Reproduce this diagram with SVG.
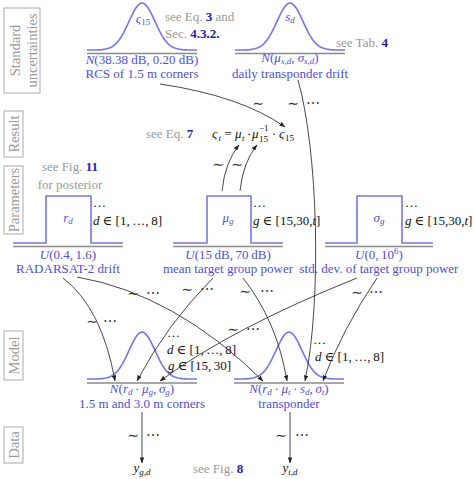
<svg xmlns="http://www.w3.org/2000/svg" xmlns:xlink="http://www.w3.org/1999/xlink" width="474" height="479" viewBox="0 0 474 479">
<style>
.lbl{font-family:"Liberation Serif","DejaVu Serif",serif;font-size:14.5px;fill:#9a9a9a}
.box{fill:none;stroke:#aaa;stroke-width:1}
.t{font-family:"Liberation Serif","DejaVu Serif",serif;font-size:13px}
.blue{fill:#5050d4}
.gray{fill:#9a9a9a}
.blk{fill:#111}
.ref{fill:#1c1cb8;font-weight:bold}
.it{font-style:italic}
.curve{fill:none;stroke:#7676e6;stroke-width:1.6;stroke-linejoin:round}
.base{stroke:#8a8a8a;stroke-width:1.6}
.conn{fill:none;stroke:#333;stroke-width:0.9;marker-end:url(#ah)}
.tl{font-family:"Liberation Serif","DejaVu Serif",serif;font-size:14px;fill:#333;text-anchor:middle}
</style>
<defs>
<marker id="ah" viewBox="0 0 8 6" refX="7.5" refY="3" markerWidth="6" markerHeight="4.5" markerUnits="userSpaceOnUse" orient="auto"><path d="M0,0 L8,3 L0,6 z" fill="#222"/></marker>
<path id="gauss" d="M-55,0 L-48,0 L-44,-0.15 L-40,-0.41 L-36,-1.02 L-32,-2.27 L-30,-3.28 L-28,-4.62 L-26,-6.36 L-24,-8.55 L-22,-11.23 L-20,-14.39 L-18,-18.02 L-16,-22.04 L-14,-26.32 L-12,-30.7 L-10,-34.96 L-8,-38.89 L-6,-42.25 L-4,-44.83 L-2,-46.45 L0,-47 L2,-46.45 L4,-44.83 L6,-42.25 L8,-38.89 L10,-34.96 L12,-30.7 L14,-26.32 L16,-22.04 L18,-18.02 L20,-14.39 L22,-11.23 L24,-8.55 L26,-6.36 L28,-4.62 L30,-3.28 L32,-2.27 L36,-1.02 L40,-0.41 L44,-0.15 L48,0 L55,0"/>
</defs>

<g id="row-labels">
<rect class="box" x="4" y="8" width="36" height="85"/>
<text class="lbl" text-anchor="middle" transform="translate(20,50.5) rotate(-90)">Standard</text>
<text class="lbl" text-anchor="middle" transform="translate(37,50.5) rotate(-90)">uncertainties</text>
<rect class="box" x="4" y="111" width="19" height="46"/>
<text class="lbl" text-anchor="middle" transform="translate(18.5,134) rotate(-90)">Result</text>
<rect class="box" x="4" y="166" width="19" height="68"/>
<text class="lbl" text-anchor="middle" transform="translate(18.5,200) rotate(-90)">Parameters</text>
<rect class="box" x="4" y="331" width="19" height="49"/>
<text class="lbl" text-anchor="middle" transform="translate(18.5,355.5) rotate(-90)">Model</text>
<rect class="box" x="4" y="427" width="19" height="36"/>
<text class="lbl" text-anchor="middle" transform="translate(18.5,445) rotate(-90)">Data</text>
</g>

<g id="rcs-15">
<use xlink:href="#gauss" class="curve" transform="translate(142,50)"/>
<line class="base" x1="87" y1="53.5" x2="197" y2="53.5"/>
<text class="t blue it" x="143" y="23" text-anchor="middle">ς<tspan font-size="9" font-style="normal" dy="2">15</tspan></text>
<text class="t gray" x="165" y="21">see Eq. <tspan class="ref">3</tspan> and</text>
<text class="t gray" x="165" y="38">Sec. <tspan class="ref">4.3.2.</tspan></text>
<text class="t blue" x="142" y="64" text-anchor="middle"><tspan class="it">N</tspan>(38.38 dB, 0.20 dB)</text>
<text class="t blue" x="142" y="78" text-anchor="middle">RCS of 1.5 m corners</text>
</g>

<g id="transponder-drift">
<use xlink:href="#gauss" class="curve" transform="translate(290,50)"/>
<line class="base" x1="235" y1="53.5" x2="345" y2="53.5"/>
<text class="t blue it" x="290" y="21" text-anchor="middle">s<tspan font-size="9" dy="2">d</tspan></text>
<text class="t gray" x="336" y="47">see Tab. <tspan class="ref">4</tspan></text>
<text class="t blue" x="290" y="62" text-anchor="middle"><tspan class="it">N</tspan>(<tspan class="it">μ</tspan><tspan class="it" font-size="9" dy="2">s,d</tspan><tspan dy="-2">, </tspan><tspan class="it">σ</tspan><tspan class="it" font-size="9" dy="2">s,d</tspan><tspan dy="-2">)</tspan></text>
<text class="t blue" x="290" y="78" text-anchor="middle">daily transponder drift</text>
</g>

<g id="result">
<text class="t gray" x="146" y="138">see Eq. <tspan class="ref">7</tspan></text>
<text class="t blk" y="138"><tspan x="212" class="it">ς</tspan><tspan x="218.5" dy="3" font-size="9" class="it">t</tspan><tspan x="224.5" dy="-3">=</tspan><tspan x="235" class="it">μ</tspan><tspan x="242" dy="3" font-size="9" class="it">t</tspan><tspan x="247" dy="-3">·</tspan><tspan x="252" class="it">μ</tspan><tspan x="259" dy="4" font-size="9">15</tspan><tspan x="259" dy="-11" font-size="9">−1</tspan><tspan x="272" dy="7">·</tspan><tspan x="279" class="it">ς</tspan><tspan x="285" dy="3" font-size="9">15</tspan></text>
</g>

<g id="radarsat-drift">
<polyline class="curve" points="13,243 46,243 46,196 91,196 91,243 123,243"/>
<line class="base" x1="13" y1="246.5" x2="123" y2="246.5"/>
<text class="t blue it" x="68" y="222" text-anchor="middle">r<tspan font-size="9" dy="2">d</tspan></text>
<text class="t blk" x="93" y="207">…</text>
<text class="t blk" x="93" y="225"><tspan class="it">d</tspan> ∈ [1,&#8201;…,&#8201;8]</text>
<text class="t gray" x="70" y="171" text-anchor="middle">see Fig. <tspan class="ref">11</tspan></text>
<text class="t gray" x="70" y="189" text-anchor="middle">for posterior</text>
<text class="t blue" x="68" y="259" text-anchor="middle"><tspan class="it">U</tspan>(0.4,&#8201;1.6)</text>
<text class="t blue" x="68" y="273" text-anchor="middle">RADARSAT-2 drift</text>
</g>

<g id="mean-power">
<polyline class="curve" points="173,243 207,243 207,196 251,196 251,243 283,243"/>
<line class="base" x1="173" y1="246.5" x2="283" y2="246.5"/>
<text class="t blue it" x="228" y="222" text-anchor="middle">μ<tspan font-size="9" dy="2">g</tspan></text>
<text class="t blk" x="253" y="207">…</text>
<text class="t blk" x="253" y="225"><tspan class="it">g</tspan> ∈ [15,30,<tspan class="it">t</tspan>]</text>
<text class="t blue" x="228" y="259" text-anchor="middle"><tspan class="it">U</tspan>(15&#8201;dB,&#8201;70&#8201;dB)</text>
<text class="t blue" x="228" y="273" text-anchor="middle">mean target group power</text>
</g>

<g id="std-power">
<polyline class="curve" points="325,243 357,243 357,196 402,196 402,243 433,243"/>
<line class="base" x1="325" y1="246.5" x2="433" y2="246.5"/>
<text class="t blue it" x="379" y="222" text-anchor="middle">σ<tspan font-size="9" dy="2">g</tspan></text>
<text class="t blk" x="405" y="207">…</text>
<text class="t blk" x="405" y="225"><tspan class="it">g</tspan> ∈ [15,30,<tspan class="it">t</tspan>]</text>
<text class="t blue" x="379" y="259" text-anchor="middle"><tspan class="it">U</tspan>(0,&#8201;10<tspan font-size="9" dy="-5">6</tspan><tspan dy="5">)</tspan></text>
<text class="t blue" x="379" y="273" text-anchor="middle">std. dev. of target group power</text>
</g>

<g id="corners-model">
<use xlink:href="#gauss" class="curve" transform="translate(142,379)"/>
<line class="base" x1="87" y1="383" x2="197" y2="383"/>
<text class="t blk" x="167" y="337">…</text>
<text class="t blk" x="167" y="354"><tspan class="it">d</tspan> ∈ [1,&#8201;…,&#8201;8]</text>
<text class="t blk" x="168" y="370"><tspan class="it">g</tspan> ∈ [15,&#8201;30]</text>
<text class="t blue" x="142" y="393" text-anchor="middle"><tspan class="it">N</tspan>(<tspan class="it">r</tspan><tspan class="it" font-size="9" dy="2">d</tspan><tspan dy="-2">&#8201;·&#8201;</tspan><tspan class="it">μ</tspan><tspan class="it" font-size="9" dy="2">g</tspan><tspan dy="-2">,&#8201;</tspan><tspan class="it">σ</tspan><tspan class="it" font-size="9" dy="2">g</tspan><tspan dy="-2">)</tspan></text>
<text class="t blue" x="142" y="408" text-anchor="middle">1.5 m and 3.0 m corners</text>
</g>

<g id="transponder-model">
<use xlink:href="#gauss" class="curve" transform="translate(289,379)"/>
<line class="base" x1="234" y1="383" x2="344" y2="383"/>
<text class="t blk" x="313" y="344">…</text>
<text class="t blk" x="315" y="361"><tspan class="it">d</tspan> ∈ [1,&#8201;…,&#8201;8]</text>
<text class="t blue" x="289" y="393" text-anchor="middle"><tspan class="it">N</tspan>(<tspan class="it">r</tspan><tspan class="it" font-size="9" dy="2">d</tspan><tspan dy="-2">&#8201;·&#8201;</tspan><tspan class="it">μ</tspan><tspan class="it" font-size="9" dy="2">t</tspan><tspan dy="-2">&#8201;·&#8201;</tspan><tspan class="it">s</tspan><tspan class="it" font-size="9" dy="2">d</tspan><tspan dy="-2">,&#8201;</tspan><tspan class="it">σ</tspan><tspan class="it" font-size="9" dy="2">t</tspan><tspan dy="-2">)</tspan></text>
<text class="t blue" x="289" y="408" text-anchor="middle">transponder</text>
</g>

<g id="data">
<text class="t blk it" x="142" y="472" text-anchor="middle">y<tspan font-size="9" dy="3">g,d</tspan></text>
<text class="t gray" x="193" y="473">see Fig. <tspan class="ref">8</tspan></text>
<text class="t blk it" x="290" y="472" text-anchor="middle">y<tspan font-size="9" dy="3">t,d</tspan></text>
</g>

<g id="connectors">
<path class="conn" d="M160,84 Q241,96 285,127"/>
<path class="conn" d="M298,80 C318,150 322,300 305,381"/>
<path class="conn" d="M222,191 Q225,162 239,145"/>
<path class="conn" d="M240,191 Q243,162 257,145"/>
<path class="conn" d="M63,278 Q102,308 115,381"/>
<path class="conn" d="M77,277 Q175,294 263,381"/>
<path class="conn" d="M213,278 Q167,324 137,381"/>
<path class="conn" d="M243,278 Q277,321 287,381"/>
<path class="conn" d="M357,278 Q232,328 160,381"/>
<path class="conn" d="M377,278 Q342,330 323,381"/>
<path class="conn" d="M142,412 L142,463"/>
<path class="conn" d="M290,412 L290,463"/>
<text class="tl" x="258" y="108">∼</text>
<text class="tl" x="293" y="108">∼</text><text class="tl" x="313" y="108">⋯</text>
<text class="tl" x="218" y="169">∼</text>
<text class="tl" x="237" y="169">∼</text>
<text class="tl" x="92" y="326">∼</text><text class="tl" x="110" y="326">⋯</text>
<text class="tl" x="133" y="298">∼</text><text class="tl" x="153" y="298">⋯</text>
<text class="tl" x="187" y="294">∼</text><text class="tl" x="207" y="294">⋯</text>
<text class="tl" x="245" y="296">∼</text><text class="tl" x="267" y="296">⋯</text>
<text class="tl" x="233" y="334">∼</text><text class="tl" x="253" y="334">⋯</text>
<text class="tl" x="357" y="297">∼</text><text class="tl" x="376" y="297">⋯</text>
<text class="tl" x="133" y="440">∼</text><text class="tl" x="153" y="440">⋯</text>
<text class="tl" x="281" y="440">∼</text><text class="tl" x="302" y="440">⋯</text>
</g>
</svg>
